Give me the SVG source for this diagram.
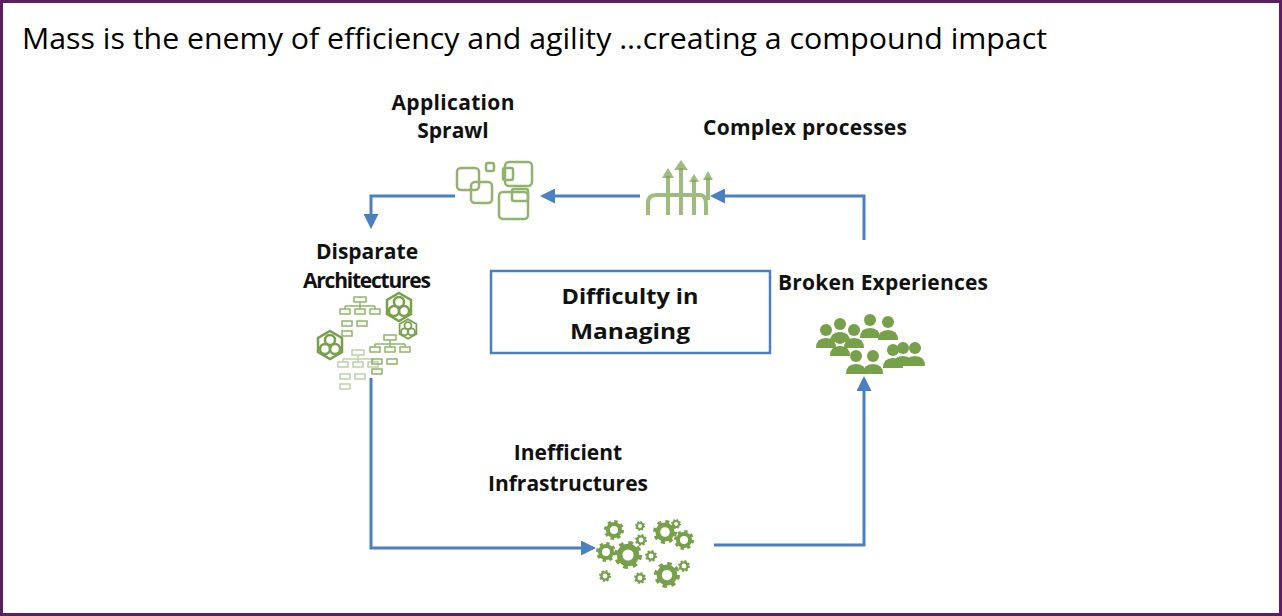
<svg xmlns="http://www.w3.org/2000/svg" width="1282" height="616" viewBox="0 0 1282 616">
<style>
.t{font-family:"Open Sans","Liberation Sans",sans-serif;fill:#000}
.lb{font-family:"Open Sans","Liberation Sans",sans-serif;font-weight:bold;font-size:21px;fill:#111;text-anchor:middle}
.c{fill:none;stroke:#4a7fc1;stroke-width:3}
.g{fill:none;stroke:#77a04a}
</style>
<defs>
<marker id="ah" viewBox="0 0 10 10" refX="8" refY="5" markerWidth="5" markerHeight="5" orient="auto"><path d="M0,0 L10,5 L0,10 z" fill="#4a7fc1"/></marker>
<g id="gear"><circle r="6" fill="none" stroke="#77a04a" stroke-width="4"/><circle r="8" fill="none" stroke="#77a04a" stroke-width="4" stroke-dasharray="3.1 3.18"/></g>
<g id="cube" fill="none" stroke="#77a04a" stroke-width="2.5"><path d="M0,-14 L12,-7 L12,7 L0,14 L-12,7 L-12,-7 Z"/><circle cx="0" cy="-5" r="5"/><circle cx="-5" cy="4" r="5"/><circle cx="5" cy="4" r="5"/></g>
<g id="org" fill="none" stroke="#8fb56a" stroke-width="1.5"><rect x="-6" y="0" width="12" height="5"/><rect x="-20" y="12" width="10" height="5"/><rect x="-5" y="12" width="10" height="5"/><rect x="10" y="12" width="10" height="5"/><rect x="-18" y="24" width="10" height="5"/><rect x="-3" y="24" width="10" height="5"/><rect x="-18" y="34" width="10" height="5"/><path d="M0,5 V9 M-15,9 H15 M-15,9 V12 M0,9 V12 M15,9 V12"/></g>
<g id="person"><circle cx="0" cy="-8" r="6" fill="#77a04a"/><path d="M-10,10 Q-10,0 0,0 Q10,0 10,10 Z" fill="#77a04a"/></g>
</defs>
<rect x="1.5" y="1.5" width="1279" height="613" fill="#fff" stroke="#5b1e5e" stroke-width="3"/>
<text class="t" x="22" y="49" font-size="29" textLength="1025" lengthAdjust="spacingAndGlyphs">Mass is the enemy of efficiency and agility …creating a compound impact</text>

<g id="connectors">
<path class="c" d="M864,240 V196 H713" marker-end="url(#ah)"/>
<path class="c" d="M640,196 H543" marker-end="url(#ah)"/>
<path class="c" d="M455,196 H371 V226" marker-end="url(#ah)"/>
<path class="c" d="M371,378 V548 H593" marker-end="url(#ah)"/>
<path class="c" d="M714,545 H864 V379" marker-end="url(#ah)"/>
</g>

<g id="center"><rect x="491" y="271" width="279" height="82" fill="#fff" stroke="#4a7fc1" stroke-width="2.5"/>
<text class="lb" x="630" y="304" font-size="25" textLength="137" lengthAdjust="spacingAndGlyphs">Difficulty in</text><text class="lb" x="630" y="339" font-size="25" textLength="120" lengthAdjust="spacingAndGlyphs">Managing</text></g>

<g id="app-sprawl"><text class="lb" x="453" y="110" textLength="123">Application</text><text class="lb" x="453" y="138">Sprawl</text>
<g class="g" stroke-width="2.5" opacity="0.8"><rect x="457" y="168" width="22" height="22" rx="4"/><rect x="471" y="182" width="21" height="21" rx="4"/><rect x="486" y="163" width="8" height="8" rx="2"/><rect x="505" y="162" width="27" height="24" rx="4"/><rect x="503" y="168" width="10" height="12" rx="2"/><rect x="499" y="192" width="29" height="27" rx="4"/><rect x="512" y="189" width="16" height="12" rx="2"/></g></g>

<g id="complex-processes"><text class="lb" x="805" y="135" textLength="204">Complex processes</text>
<g stroke="#77a04a" stroke-width="4" fill="none" opacity="0.7"><path d="M648,215 V203 Q648,195 656,195 H700 Q706,195 706,205 V215"/><path d="M668,215 V176"/><path d="M681,215 V168"/><path d="M694,215 V180"/><path d="M708,200 V178"/></g>
<g fill="#77a04a" opacity="0.7"><path d="M662,178 L668,168 L674,178Z"/><path d="M674,170 L681,160 L688,170Z"/><path d="M689,182 L694,174 L699,182Z"/><path d="M703,180 L708,171 L713,180Z"/></g></g>

<g id="disparate"><text class="lb" x="367" y="259">Disparate</text><text class="lb" x="367" y="288" font-size="17" textLength="128">Architectures</text>
<use href="#org" x="360" y="297"/><use href="#org" x="390" y="335"/><use href="#org" x="358" y="350" opacity="0.6"/>
<use href="#cube" x="399" y="307"/><use href="#cube" x="408" y="329" transform="translate(408 329) scale(0.7) translate(-408 -329)"/><use href="#cube" x="330" y="345"/></g>

<g id="broken-experiences"><text class="lb" x="883" y="290" textLength="210">Broken Experiences</text>
<use href="#person" x="826" y="338"/><use href="#person" x="840" y="332"/><use href="#person" x="854" y="338"/><use href="#person" x="840" y="346"/>
<use href="#person" x="870" y="328"/><use href="#person" x="888" y="330"/><use href="#person" x="856" y="364"/><use href="#person" x="873" y="364"/>
<use href="#person" x="903" y="356"/><use href="#person" x="915" y="356"/><use href="#person" x="893" y="358"/></g>

<g id="inefficient"><text class="lb" x="568" y="460">Inefficient</text><text class="lb" x="568" y="491" textLength="160">Infrastructures</text>
<use href="#gear" x="614" y="530"/><use href="#gear" x="628" y="555" transform="translate(628 555) scale(1.4) translate(-628 -555)"/><use href="#gear" x="606" y="552"/>
<use href="#gear" x="665" y="532" transform="translate(665 532) scale(1.2) translate(-665 -532)"/><use href="#gear" x="684" y="540"/><use href="#gear" x="667" y="575" transform="translate(667 575) scale(1.3) translate(-667 -575)"/>
<use href="#gear" x="641" y="540" transform="translate(641 540) scale(0.6) translate(-641 -540)"/><use href="#gear" x="651" y="556" transform="translate(651 556) scale(0.6) translate(-651 -556)"/><use href="#gear" x="684" y="566" transform="translate(684 566) scale(0.6) translate(-684 -566)"/>
<use href="#gear" x="605" y="576" transform="translate(605 576) scale(0.6) translate(-605 -576)"/><use href="#gear" x="640" y="578" transform="translate(640 578) scale(0.6) translate(-640 -578)"/><use href="#gear" x="640" y="526" transform="translate(640 526) scale(0.5) translate(-640 -526)"/><use href="#gear" x="676" y="524" transform="translate(676 524) scale(0.5) translate(-676 -524)"/></g>
</svg>
